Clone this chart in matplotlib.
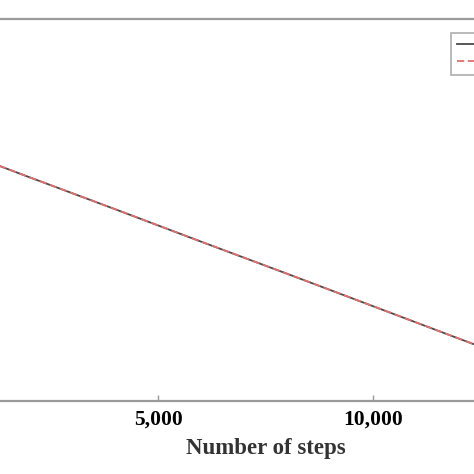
"""Number of steps vs. value: reference and model curves (cropped view)."""

import matplotlib

matplotlib.use("Agg")
import matplotlib.pyplot as plt

# Data (y in axis fraction units)
steps = [0, 2000, 4000, 6000, 8000, 10000, 12000, 14000, 15000]
reference = [0.671, 0.586, 0.502, 0.417, 0.333, 0.248, 0.163, 0.079, 0.037]
model = [0.671, 0.586, 0.502, 0.417, 0.333, 0.248, 0.163, 0.079, 0.037]
series_labels = ["Reference", "Model"]
xticks = [5000, 10000]
xtick_labels = ["5,000", "10,000"]

SPINE = "#9a9a9a"
SERIF = ["Liberation Serif", "DejaVu Serif"]

fig = plt.figure(figsize=(4.74, 4.74), dpi=100)
fig.patch.set_facecolor("white")

# axes reach past the image edges, as in the cropped reference
ax = fig.add_axes([-0.120, 0.154, 1.361, 0.806])
ax.plot(steps, reference, color="#4a4a4a", lw=1.3, label=series_labels[0])
ax.plot(steps, model, color="#e07070", lw=1.3, ls=(0, (4, 2)), label=series_labels[1])

ax.set_xlim(0, 15000)
ax.set_ylim(0, 1)
ax.set_xticks(xticks)
ax.set_xticklabels(xtick_labels, fontfamily=SERIF, fontweight="bold", fontsize=15.5)
ax.set_yticks([])
ax.tick_params(axis="x", direction="in", length=4, width=1, color=SPINE, pad=6)
ax.set_xlabel("Number of steps", fontfamily=SERIF, fontweight="bold",
              fontsize=16.5, color="#333333", labelpad=6)

for side in ax.spines.values():
    side.set_color(SPINE)
    side.set_linewidth(1.6)

# legend sits at the right edge; its labels fall outside the crop, as in the reference
leg = ax.legend(loc="upper left", bbox_to_anchor=(451 / 474, 1 - 33 / 474),
                bbox_transform=fig.transFigure, frameon=True, fancybox=False,
                prop={"family": SERIF, "size": 9}, handlelength=4,
                borderpad=0.5, labelspacing=0.4, borderaxespad=0,
                handletextpad=0.6)
leg.get_frame().set_edgecolor(SPINE)
leg.get_frame().set_linewidth(1.2)

fig.savefig("out.png", dpi=100)
